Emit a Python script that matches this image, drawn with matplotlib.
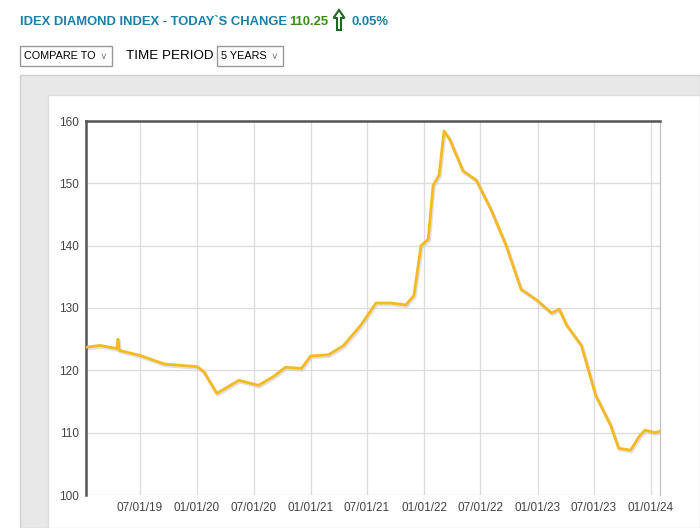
import matplotlib
matplotlib.use("Agg")
import matplotlib.pyplot as plt
from matplotlib.patches import Rectangle, FancyArrow
import matplotlib.transforms as mtrans
import pandas as pd

dates = ["2019-01-09","2019-02-23","2019-04-18","2019-04-22","2019-04-26","2019-07-01","2019-09-19",
         "2020-01-01","2020-01-23","2020-03-05","2020-05-15","2020-07-17","2020-09-03","2020-10-12",
         "2020-12-02","2021-01-01","2021-02-28","2021-04-17","2021-06-12","2021-07-30","2021-09-16",
         "2021-11-03","2021-11-29","2021-12-22","2022-01-14","2022-01-30","2022-02-18","2022-03-06",
         "2022-03-25","2022-05-06","2022-06-18","2022-08-05","2022-09-22","2022-11-09","2022-12-29",
         "2023-02-15","2023-03-12","2023-04-04","2023-05-22","2023-07-07","2023-08-24","2023-09-19",
         "2023-10-27","2023-11-27","2023-12-13","2024-01-14","2024-01-28"]
values = [123.7,124.0,123.5,125.0,123.2,122.4,121.0,
          120.6,119.8,116.3,118.4,117.6,119.0,120.5,
          120.3,122.3,122.5,124.0,127.3,130.8,130.8,
          130.5,132.0,140.0,141.0,149.7,151.3,158.4,
          157.0,152.0,150.5,145.7,140.0,133.0,131.3,
          129.2,129.8,127.3,124.0,116.0,111.2,107.5,
          107.2,109.6,110.4,110.0,110.2]
tick_dates = ["2019-07-01","2020-01-01","2020-07-01","2021-01-01","2021-07-01",
              "2022-01-01","2022-07-01","2023-01-01","2023-07-01","2024-01-01"]
tick_labels = ["07/01/19","01/01/20","07/01/20","01/01/21","07/01/21",
               "01/01/22","07/01/22","01/01/23","07/01/23","01/01/24"]
yticks = [100, 110, 120, 130, 140, 150, 160]

W, H = 700, 528
fig = plt.figure(figsize=(7, 5.28), dpi=100)
fig.patch.set_facecolor("white")
fx = lambda p: p / W
fy = lambda p: 1 - p / H
FAM = "Liberation Sans"

fig.patches.append(Rectangle((fx(20), 0), fx(700 - 20), fy(75), transform=fig.transFigure,
                             facecolor="#e8e8e8", edgecolor="#d0d0d0", lw=1, zorder=-2))
fig.patches.append(Rectangle((fx(48), 0), fx(700 - 48), fy(95), transform=fig.transFigure,
                             facecolor="white", edgecolor="#dddddd", lw=1, zorder=-1))

fig.text(fx(20), fy(22), "IDEX DIAMOND INDEX - TODAY`S CHANGE", color="#1a7fa8",
         fontsize=9.4, fontweight="bold", va="center", family=FAM)
fig.text(fx(289), fy(22), "110.25", color="#3a8a1a", fontsize=9.4, fontweight="bold",
         va="center", family=FAM)
fig.patches.append(FancyArrow(fx(339), fy(30), 0, fy(0) - fy(20), width=fx(4), head_width=fx(11),
                              head_length=(fy(0) - fy(8)), transform=fig.transFigure,
                              facecolor="white", edgecolor="#1d6b1d", lw=1.5,
                              length_includes_head=True))
fig.text(fx(351), fy(22), "0.05%", color="#1a7fa8", fontsize=9.4, fontweight="bold",
         va="center", family=FAM)

fig.patches.append(Rectangle((fx(20), fy(66)), fx(92), fy(0) - fy(20), transform=fig.transFigure,
                             facecolor="white", edgecolor="#999999", lw=1))
fig.text(fx(24), fy(56), "COMPARE TO", fontsize=7.8, va="center", family=FAM)
fig.text(fx(101), fy(57), "\u02c5", fontsize=7, va="center", color="#666666", family=FAM)
fig.text(fx(126), fy(56), "TIME PERIOD", fontsize=9.6, va="center", family=FAM)
fig.patches.append(Rectangle((fx(217), fy(66)), fx(66), fy(0) - fy(20), transform=fig.transFigure,
                             facecolor="white", edgecolor="#999999", lw=1))
fig.text(fx(221), fy(56), "5 YEARS", fontsize=7.8, va="center", family=FAM)
fig.text(fx(272), fy(57), "\u02c5", fontsize=7, va="center", color="#666666", family=FAM)

ax = fig.add_axes([fx(86), fy(495), fx(660 - 86), fy(121) - fy(495)])
ax.set_zorder(2)
ax.patch.set_alpha(0)
x = pd.to_datetime(dates)
ax.plot(x, values, color="#cccccc", lw=2.5, alpha=0.6, zorder=2,
        transform=ax.transData + mtrans.ScaledTranslation(1/100, -1.5/100, fig.dpi_scale_trans))
ax.plot(x, values, color="#f5b921", lw=2, zorder=3)
ax.set_xlim(pd.Timestamp("2019-01-09"), pd.Timestamp("2024-01-30"))
ax.set_ylim(100, 160)
ax.set_yticks(yticks)
ax.set_xticks(pd.to_datetime(tick_dates))
ax.set_xticklabels(tick_labels)
ax.grid(True, color="#dddddd", lw=1)
ax.tick_params(length=0, labelsize=8.5, colors="#444444", pad=5)
for lbl in ax.get_xticklabels() + ax.get_yticklabels():
    lbl.set_family(FAM)
for s in ["left", "top"]:
    ax.spines[s].set_color("#555555")
    ax.spines[s].set_linewidth(1.8)
ax.spines["right"].set_color("#bbbbbb")
ax.spines["bottom"].set_visible(False)

fig.savefig("out.png", dpi=100)
